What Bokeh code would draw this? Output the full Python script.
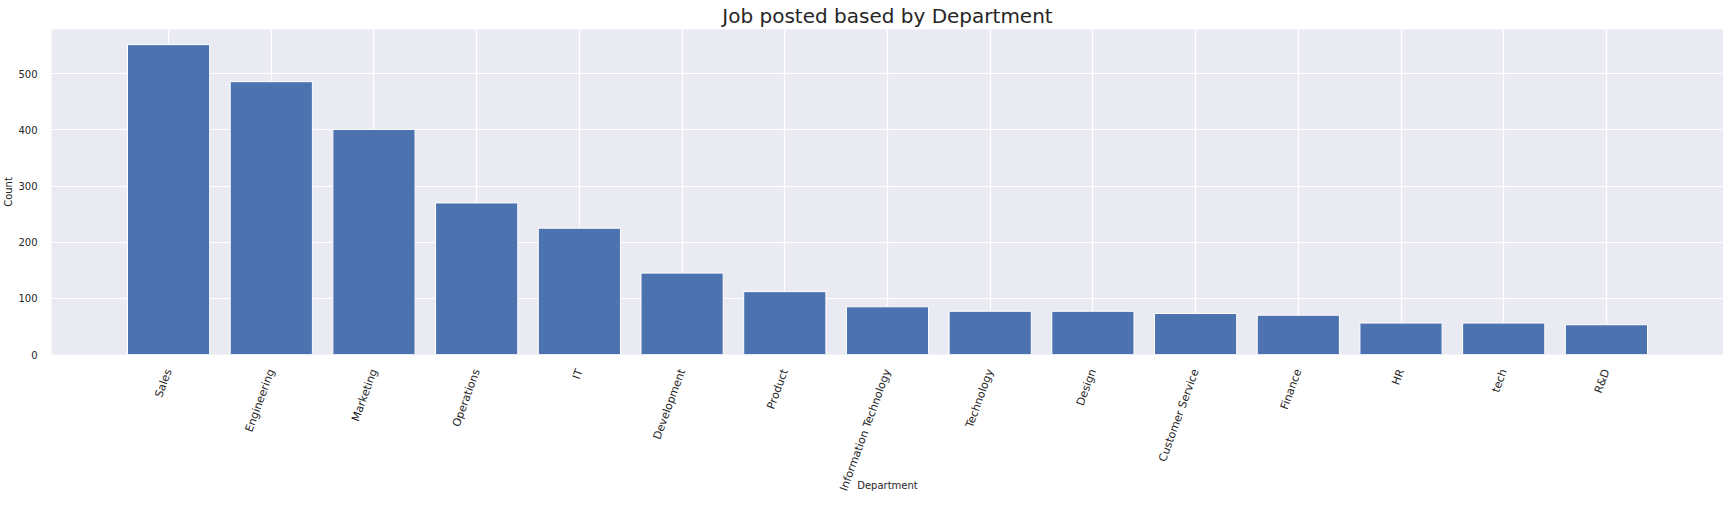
import math

from bokeh.embed import file_html
from bokeh.models import ColumnDataSource, FixedTicker, Range1d
from bokeh.plotting import figure
from bokeh.resources import INLINE

# data
departments = ["Sales", "Engineering", "Marketing", "Operations", "IT",
               "Development", "Product", "Information Technology", "Technology",
               "Design", "Customer Service", "Finance", "HR", "tech", "R&D"]
counts = [552, 486, 401, 270, 225, 145, 112, 85, 77, 77, 73, 70, 56, 56, 53]
y_ticks = [0, 100, 200, 300, 400, 500]

positions = list(range(len(departments)))
source = ColumnDataSource(data=dict(x=positions, count=counts, dept=departments))

p = figure(title="Job posted based by Department",
           frame_width=1672, frame_height=325,
           x_range=Range1d(-1.14, 15.14), y_range=Range1d(0, 579),
           x_axis_label="Department", y_axis_label="Count",
           output_backend="svg", toolbar_location=None,
           min_border_left=44, min_border_right=0, min_border_top=0,
           min_border_bottom=0)

p.vbar(x="x", top="count", width=0.8, bottom=0, source=source,
       fill_color="#4C72B0", line_color="white", line_width=1)

# seaborn darkgrid look
p.background_fill_color = "#EAEAF2"
p.border_fill_color = "white"
p.outline_line_color = None
p.grid.grid_line_color = "white"
p.grid.grid_line_width = 1.2

p.title.text_font = "DejaVu Sans"
p.title.text_font_size = "20px"
p.title.text_font_style = "normal"
p.title.text_color = "#262626"
p.title.align = "center"
p.title.standoff = 3

p.xaxis.ticker = FixedTicker(ticks=positions)
p.xaxis.major_label_overrides = {i: d for i, d in enumerate(departments)}
p.xaxis.major_label_orientation = math.radians(70)
p.yaxis.ticker = FixedTicker(ticks=y_ticks)

for ax in (p.xaxis, p.yaxis):
    ax.axis_line_color = None
    ax.major_tick_line_color = None
    ax.minor_tick_line_color = None
    ax.major_label_text_font = "DejaVu Sans"
    ax.major_label_text_color = "#262626"
    ax.axis_label_text_font = "DejaVu Sans"
    ax.axis_label_text_font_style = "normal"
    ax.axis_label_text_font_size = "10px"
    ax.axis_label_text_color = "#262626"

p.xaxis.major_label_text_font_size = "11px"
p.yaxis.major_label_text_font_size = "10px"
p.xaxis.major_label_standoff = 9
p.yaxis.major_label_standoff = 8
p.xaxis.axis_label_standoff = -18
p.yaxis.axis_label_standoff = 1

open("out.html", "w").write(file_html(p, INLINE))
